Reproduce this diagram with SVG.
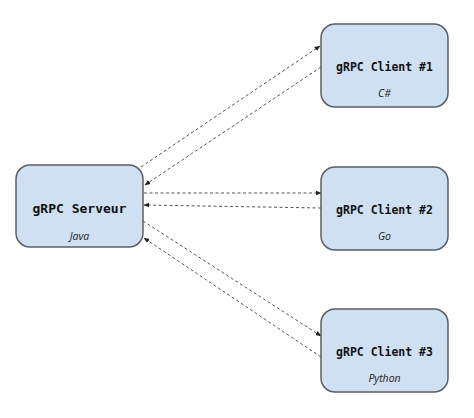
<svg xmlns="http://www.w3.org/2000/svg" width="474" height="418" viewBox="0 0 474 418">
<style>
.box{fill:#cfe0f3;stroke:#5a5f66;stroke-width:1.5}
.t{font-family:"DejaVu Sans Mono","Liberation Mono",monospace;font-weight:bold;fill:#111;text-anchor:middle}
.s{font-family:"Open Sans","Liberation Sans",sans-serif;font-style:italic;font-size:10.5px;fill:#222;text-anchor:middle}
.c{fill:none;stroke:#555;stroke-width:1;stroke-dasharray:3,2.5}
</style>
<defs>
<marker id="ah" viewBox="0 0 10 10" refX="9" refY="5" markerWidth="6" markerHeight="6" orient="auto" markerUnits="userSpaceOnUse">
<path d="M0,1 L10,5 L0,9 z" fill="#222"/>
</marker>
</defs>
<rect width="474" height="418" fill="#fff"/>
<g id="connectors">
<line class="c" x1="141" y1="167" x2="320" y2="46" marker-end="url(#ah)"/>
<line class="c" x1="321" y1="67" x2="145" y2="185" marker-end="url(#ah)"/>
<line class="c" x1="144" y1="193" x2="321" y2="193" marker-end="url(#ah)"/>
<line class="c" x1="321" y1="208" x2="144" y2="205" marker-end="url(#ah)"/>
<line class="c" x1="143" y1="221" x2="321" y2="336" marker-end="url(#ah)"/>
<line class="c" x1="321" y1="357" x2="144" y2="238" marker-end="url(#ah)"/>
</g>
<g id="server">
<rect class="box" x="16" y="165" width="127" height="82" rx="14"/>
<text class="t" x="79.5" y="212.5" font-size="13">gRPC Serveur</text>
<text class="s" x="79.5" y="240">Java</text>
</g>
<g id="client1">
<rect class="box" x="321" y="24" width="127" height="83" rx="14"/>
<text class="t" x="384.5" y="71" font-size="11.5">gRPC Client #1</text>
<text class="s" x="384.5" y="97">C#</text>
</g>
<g id="client2">
<rect class="box" x="321" y="167" width="127" height="83" rx="14"/>
<text class="t" x="384.5" y="214" font-size="11.5">gRPC Client #2</text>
<text class="s" x="384.5" y="240">Go</text>
</g>
<g id="client3">
<rect class="box" x="321" y="309" width="127" height="83" rx="14"/>
<text class="t" x="384.5" y="356" font-size="11.5">gRPC Client #3</text>
<text class="s" x="384.5" y="382">Python</text>
</g>
</svg>
